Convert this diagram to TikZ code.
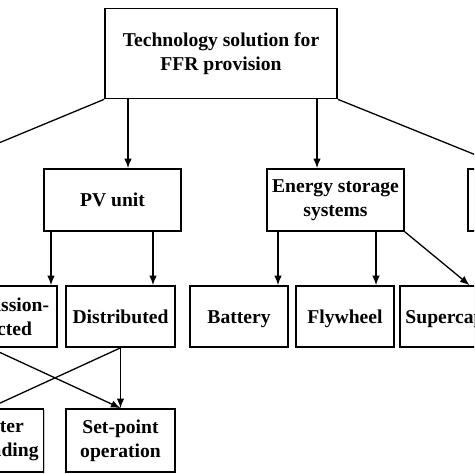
\documentclass[tikz,border=0pt]{standalone}
\usepackage{fontspec}
\setmainfont{Liberation Serif}
\usetikzlibrary{arrows.meta}
\usetikzlibrary{shadows}
\tikzset{
    common/.style={draw, rectangle, line width=0.85pt, fill=white, inner sep=0pt, align=center,
        font=\bfseries\fontsize{9.8}{12}\selectfont,
        drop shadow={shadow xshift=0.5pt, shadow yshift=-0.5pt, opacity=0.3, fill=black!70}},
    rootbox/.style={common, minimum width=116pt, minimum height=45pt},
    techbox/.style={common, minimum width=68.5pt, minimum height=31pt},
    optionbox/.style={common, minimum width=54.5pt, minimum height=30.5pt},
    oneline/.style={text height=6.6pt, text depth=0pt},
    controlbox/.style={common, minimum width=54.5pt, minimum height=31.5pt},
    link/.style={-{Latex[length=4.8pt, width=3.8pt]}, line width=0.65pt},
    plainline/.style={line width=0.65pt}
}

\begin{document}
\begin{tikzpicture}[x=0.5pt, y=-0.5pt]
      \useasboundingbox (0,0) rectangle (474,474);
      \clip (0,0) rectangle (474,474);

      % top level
      \node[rootbox] (tech-solution) at (221,53.5) {Technology solution for\\FFR provision};

      % technologies
      \node[techbox] (pv-unit) at (112.5,200) {PV unit};
      \node[techbox] (energy-storage) at (335.5,200) {Energy storage\\systems};
      \node[techbox] (wind-unit) at (536.5,200) {Wind unit};
      \coordinate (hidden-left) at (-64,169);

      % options
      \node[optionbox, minimum width=67pt] (transmission) at (-10,316.5) {Transmission-\\connected};
      \node[optionbox, oneline] (distributed) at (120.5,316.5) {Distributed};
      \node[optionbox, oneline, minimum width=49pt] (battery) at (239,316.5) {Battery};
      \node[optionbox, oneline, minimum width=49pt] (flywheel) at (345,316.5) {Flywheel};
      \node[optionbox, oneline, minimum width=69.5pt] (supercap) at (469.5,316.5) {Supercapacitor};

      % operation
      \node[controlbox] (inverter) at (-11,440.5) {Inverter\\overloading};
      \node[controlbox] (set-point) at (120.5,440.5) {Set-point\\operation};

      \draw[plainline] (tech-solution.south west) -- (hidden-left);
      \draw[link] ([xshift=7.75pt]pv-unit.north |- tech-solution.south) -- ([xshift=7.75pt]pv-unit.north);
      \draw[link] ([xshift=-9.25pt]energy-storage.north |- tech-solution.south) -- ([xshift=-9.25pt]energy-storage.north);
      \draw[link] (tech-solution.south east) -- ([xshift=-14pt]wind-unit.north);

      \draw[link] ([xshift=-30.75pt]pv-unit.south) -- ([xshift=-30.75pt]pv-unit.south |- transmission.north);
      \draw[link] ([xshift=20.25pt]pv-unit.south) -- ([xshift=20.25pt]pv-unit.south |- distributed.north);
      \draw[link] ([xshift=-28.75pt]energy-storage.south) -- ([xshift=-28.75pt]energy-storage.south |- battery.north);
      \draw[link] ([xshift=20.25pt]energy-storage.south) -- ([xshift=20.25pt]energy-storage.south |- flywheel.north);
      \draw[link] (energy-storage.south east) -- (supercap.north);

      \draw[link] (distributed.south) -- (set-point.north);
      \draw[link] (distributed.south) -- (inverter.north);
      \draw[link] (transmission.south) -- (set-point.north);
    \end{tikzpicture}
\end{document}
